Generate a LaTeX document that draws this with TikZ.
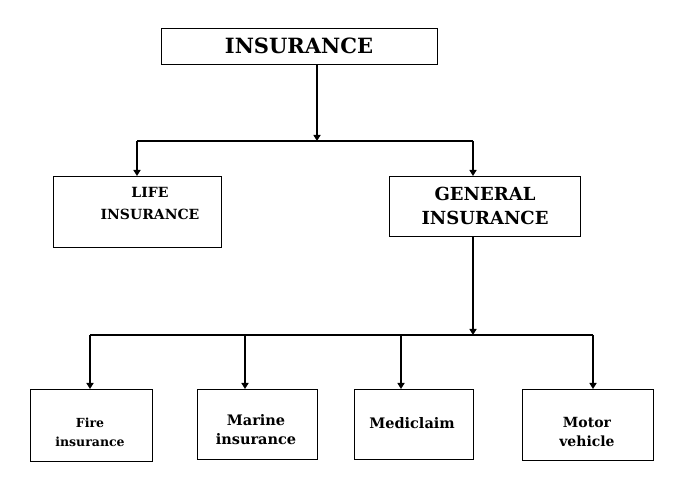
\documentclass[tikz,border=0pt]{standalone}
\usepackage{fontspec}
\setmainfont{DejaVu Serif}
\usetikzlibrary{arrows.meta}
\begin{document}
\begin{tikzpicture}[x=1pt,y=-1pt,
 box/.style={draw,line width=1pt,inner sep=0pt,anchor=north west},
 lbl/.style={align=center,inner sep=0pt,font=\bfseries},
 conn/.style={line width=2pt},
 arr/.style={line width=2pt,-{Triangle[width=7pt,length=6pt]}}]
\useasboundingbox (0,0) rectangle (675,486);
\node[box,minimum width=276pt,minimum height=36pt] (ins) at (161,28) {};
\node[lbl,font=\bfseries\fontsize{21}{24}\selectfont] (tins) at (299,46) {INSURANCE};
\node[box,minimum width=168pt,minimum height=71pt] (life) at (53,176) {};
\node[lbl,font=\bfseries\fontsize{14}{22}\selectfont] (tlife) at (150,203) {LIFE\\INSURANCE};
\node[box,minimum width=191pt,minimum height=60pt] (gen) at (389,176) {};
\node[lbl,font=\bfseries\fontsize{18}{24}\selectfont] (tgen) at (485,206) {GENERAL\\INSURANCE};
\node[box,minimum width=122pt,minimum height=72pt] (fire) at (30,389) {};
\node[lbl,font=\bfseries\fontsize{12.5}{19}\selectfont] (tfire) at (90,432) {Fire\\insurance};
\node[box,minimum width=120pt,minimum height=70pt] (mar) at (197,389) {};
\node[lbl,font=\bfseries\fontsize{14.5}{19}\selectfont] (tmar) at (256,430) {Marine\\insurance};
\node[box,minimum width=119pt,minimum height=70pt] (med) at (354,389) {};
\node[lbl,font=\bfseries\fontsize{14.5}{19}\selectfont] (tmed) at (412,423) {Mediclaim};
\node[box,minimum width=131pt,minimum height=71pt] (mot) at (522,389) {};
\node[lbl,font=\bfseries\fontsize{14}{19}\selectfont] (tmot) at (587,432) {Motor\\vehicle};
\coordinate (j1) at (317,141);
\coordinate (l1) at (137,141);
\coordinate (r1) at (473,141);
\draw[arr] (ins.south -| j1) -- (j1);
\draw[conn] (l1) -- (r1);
\draw[arr] (l1) -- (life.north -| l1);
\draw[arr] (r1) -- (gen.north -| r1);
\coordinate (j2) at (473,335);
\coordinate (a) at (90,335);
\coordinate (b) at (245,335);
\coordinate (c) at (401,335);
\coordinate (d) at (593,335);
\draw[arr] (gen.south -| j2) -- (j2);
\draw[conn] (a) -- (d);
\draw[arr] (a) -- (fire.north -| a);
\draw[arr] (b) -- (mar.north -| b);
\draw[arr] (c) -- (med.north -| c);
\draw[arr] (d) -- (mot.north -| d);
\end{tikzpicture}
\end{document}
